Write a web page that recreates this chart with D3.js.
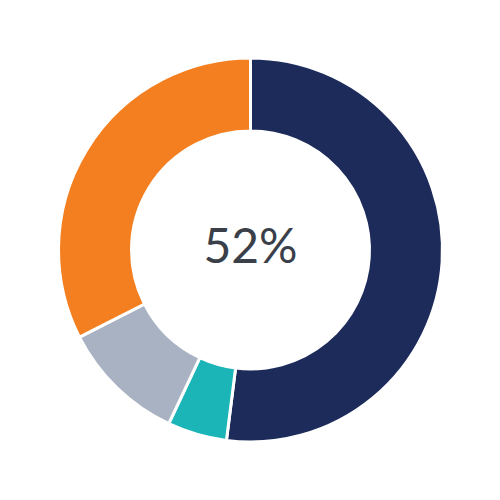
<!DOCTYPE html>
<html>
<head>
<meta charset="utf-8">
<script src="https://cdn.jsdelivr.net/npm/d3@7"></script>
<style>
  html, body { margin: 0; padding: 0; background: #fff; }
</style>
</head>
<body>
<div id="chart"></div>
<script>
// === DATA ===
const categories = ['A', 'B', 'C', 'D']
const values = [52, 5, 10.5, 32.5]
const colors = ['#1c2b5a', '#1bb5b8', '#a9b2c3', '#f47f20']
const centerLabel = '52%'

// === CHART ===
const width = 500
const height = 500
const outerR = 192
const innerR = 119

const svg = d3.select('#chart')
    .append('svg')
    .attr('width', width)
    .attr('height', height)

const g = svg.append('g')
    .attr('transform', `translate(${width / 2 + 0.5},${height / 2})`)

const pie = d3.pie().sort(null).value(d => d)
const arc = d3.arc().innerRadius(innerR).outerRadius(outerR)
const color = d3.scaleOrdinal().domain(categories).range(colors)

g.selectAll('path')
    .data(pie(values))
    .join('path')
    .attr('d', arc)
    .attr('fill', (d, i) => color(categories[i]))
    .attr('stroke', '#fff')
    .attr('stroke-width', 3)

// center label, baseline just under the middle
g.append('text')
    .attr('text-anchor', 'middle')
    .attr('y', 13)
    .attr('font-family', 'Lato, sans-serif')
    .attr('font-weight', 400)
    .attr('font-size', 48)
    .attr('fill', '#3a3f4a')
    .text(centerLabel)
</script>
</body>
</html>
